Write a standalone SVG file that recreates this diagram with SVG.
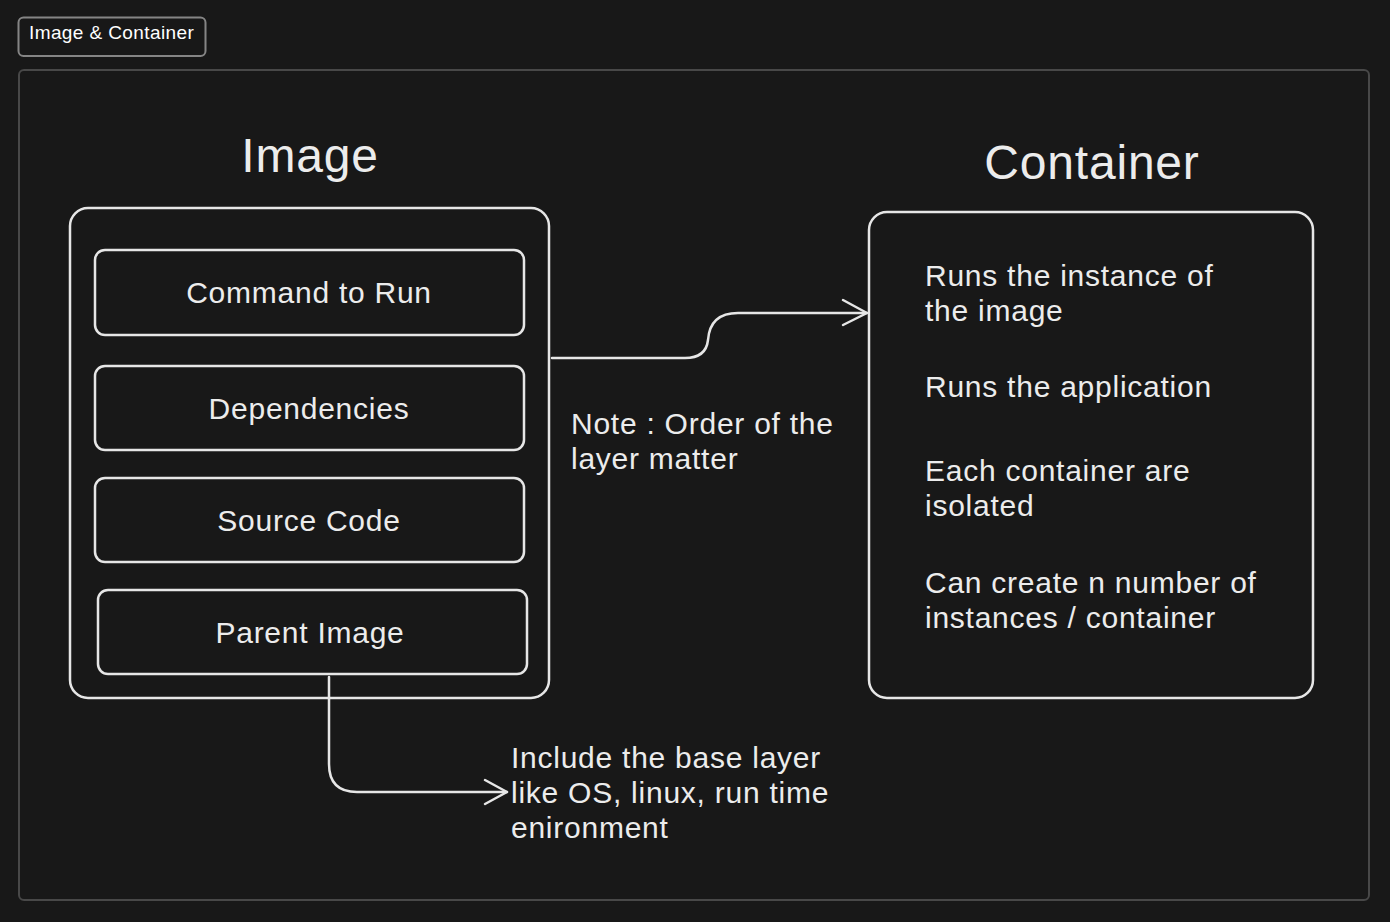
<svg xmlns="http://www.w3.org/2000/svg" width="1390" height="922" viewBox="0 0 1390 922">
  <style>
    .bg { fill: #181818; }
    .frame { fill: #181818; stroke: #484848; stroke-width: 2; }
    .tag { fill: #181818; stroke: #858585; stroke-width: 2; }
    .box { fill: #181818; stroke: #e6e6e6; stroke-width: 2.5; }
    .conn { fill: none; stroke: #e6e6e6; stroke-width: 2.5; stroke-linecap: round; stroke-linejoin: round; }
    text { font-family: "Liberation Sans", Arial, sans-serif; fill: #ececec; }
    .t { font-size: 30px; letter-spacing: 0.75px; }
    .c { text-anchor: middle; }
    .title { font-size: 48px; letter-spacing: 0.8px; text-anchor: middle; }
    .tagtext { font-size: 19px; letter-spacing: 0.4px; fill: #ffffff; }
  </style>
  <rect class="bg" x="0" y="0" width="1390" height="922"/>

  <g id="frame">
    <rect class="frame" x="19" y="70" width="1350" height="830" rx="5"/>
  </g>
  <g id="label">
    <rect class="tag" x="18.5" y="17.5" width="187" height="38.5" rx="5"/>
    <text class="tagtext" x="29" y="39">Image &amp; Container</text>
  </g>

  <g id="image-title">
    <text class="title" x="310" y="172">Image</text>
  </g>
  <g id="container-title">
    <text class="title" x="1092" y="179">Container</text>
  </g>

  <g id="image">
    <rect class="box" x="70" y="208" width="479" height="490" rx="18"/>
  </g>
  <g id="command">
    <rect class="box" x="95" y="250" width="429" height="85" rx="10"/>
    <text class="t c" x="309" y="303">Command to Run</text>
  </g>
  <g id="dependencies">
    <rect class="box" x="95" y="366" width="429" height="84" rx="10"/>
    <text class="t c" x="309" y="419">Dependencies</text>
  </g>
  <g id="source-code">
    <rect class="box" x="95" y="478" width="429" height="84" rx="10"/>
    <text class="t c" x="309" y="531">Source Code</text>
  </g>
  <g id="parent-image">
    <rect class="box" x="98" y="590" width="429" height="84" rx="10"/>
    <text class="t c" x="310" y="643">Parent Image</text>
  </g>

  <g id="container">
    <rect class="box" x="869" y="212" width="444" height="486" rx="18"/>
    <text class="t" x="925" y="286">Runs the instance of</text>
    <text class="t" x="925" y="321">the image</text>
    <text class="t" x="925" y="397">Runs the application</text>
    <text class="t" x="925" y="481">Each container are</text>
    <text class="t" x="925" y="516">isolated</text>
    <text class="t" x="925" y="593">Can create n number of</text>
    <text class="t" x="925" y="628">instances / container</text>
  </g>

  <g id="note">
    <text class="t" x="571" y="434">Note : Order of the</text>
    <text class="t" x="571" y="469">layer matter</text>
  </g>

  <g id="base-layer-note">
    <text class="t" x="511" y="768">Include the base layer</text>
    <text class="t" x="511" y="803">like OS, linux, run time</text>
    <text class="t" x="511" y="838">enironment</text>
  </g>

  <g id="connectors">
    <path class="conn" d="M552 358 L685 358 Q706 358 708 340 Q710 313 738 313 L867 313"/>
    <path class="conn" d="M843 300 L867 313 L843 325"/>
    <path class="conn" d="M329 677 L329 764 Q329 792 357 792 L507 792"/>
    <path class="conn" d="M485 780 L507 792 L485 804"/>
  </g>
</svg>
